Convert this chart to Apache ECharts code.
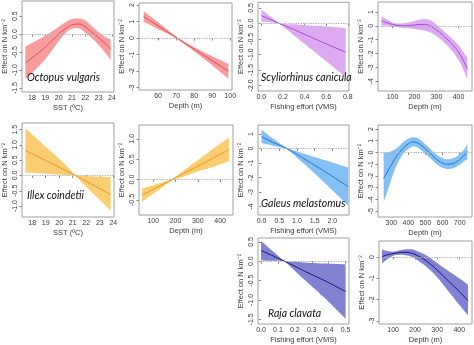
<!DOCTYPE html>
<html><head><meta charset="utf-8">
<script src="https://cdn.jsdelivr.net/npm/echarts@6/dist/echarts.min.js"></script>
<style>html,body{margin:0;padding:0;background:#fff}#c{width:474px;height:345px}</style>
</head><body><div id="c"></div><script>
// ---- Panel 1: Octopus vulgaris ~ SST
const octoSstX    = [17.5,18,18.5,19,19.5,20,20.5,21,21.5,22,22.5,23,23.5,23.9];
const octoSstMean = [-0.8,-0.66,-0.52,-0.36,-0.18,0.0,0.15,0.26,0.28,0.2,0.05,-0.1,-0.27,-0.42];
const octoSstHi   = [-0.35,-0.25,-0.15,-0.04,0.08,0.2,0.33,0.42,0.43,0.38,0.22,0.05,-0.08,-0.15];
const octoSstLo   = [-1.25,-1.08,-0.9,-0.7,-0.45,-0.2,0.02,0.15,0.16,0.04,-0.12,-0.3,-0.52,-0.73];
// ---- Panel 2: Octopus vulgaris ~ Depth
const octoDepX    = [52,60,66,71,80,90,99];
const octoDepMean = [1.3,0.74,0.32,-0.04,-0.67,-1.37,-2.0];
const octoDepHi   = [1.62,0.95,0.42,0.0,-0.55,-1.1,-1.55];
const octoDepLo   = [0.98,0.53,0.22,-0.08,-0.8,-1.64,-2.45];
// ---- Panel 3: Scyliorhinus canicula ~ Fishing effort
const scyFeX    = [0,0.1,0.17,0.3,0.45,0.6,0.78];
const scyFeMean = [0.25,0.1,-0.007,-0.2,-0.43,-0.66,-0.93];
const scyFeHi   = [0.45,0.18,0.0,-0.03,-0.07,-0.1,-0.15];
const scyFeLo   = [0.05,0.03,-0.02,-0.38,-0.8,-1.22,-1.72];
// ---- Panel 4: Scyliorhinus canicula ~ Depth
const scyDepX    = [50,75,100,125,150,175,200,225,250,275,300,325,350,375,400,420,440];
const scyDepMean = [0.35,0.22,0.1,0.03,0.0,0.02,0.06,0.1,0.1,-0.05,-0.3,-0.62,-1.0,-1.4,-1.9,-2.45,-3.1];
const scyDepHi   = [0.7,0.45,0.25,0.17,0.18,0.25,0.35,0.45,0.5,0.38,0.07,-0.28,-0.62,-0.98,-1.4,-1.85,-2.3];
const scyDepLo   = [0.0,0.0,-0.05,-0.1,-0.15,-0.18,-0.22,-0.28,-0.35,-0.5,-0.75,-1.05,-1.45,-1.9,-2.45,-3.1,-3.85];
// ---- Panel 5: Illex coindetii ~ SST
const illSstX    = [17.5,18.5,19.5,20.5,21.2,22,23,23.8];
const illSstMean = [0.82,0.6,0.38,0.16,0.0,-0.19,-0.43,-0.62];
const illSstHi   = [1.55,1.15,0.75,0.33,0.02,-0.02,-0.04,-0.05];
const illSstLo   = [0.1,0.07,0.04,0.01,-0.02,-0.38,-0.8,-1.15];
// ---- Panel 6: Illex coindetii ~ Depth
const illDepX    = [50,100,150,185,250,300,350,400,440];
const illDepMean = [-0.38,-0.24,-0.1,0.0,0.19,0.33,0.47,0.62,0.73];
const illDepHi   = [-0.22,-0.14,-0.05,0.02,0.28,0.48,0.68,0.88,1.02];
const illDepLo   = [-0.55,-0.35,-0.15,-0.02,0.1,0.2,0.28,0.37,0.45];
// ---- Panel 7: Galeus melastomus ~ Fishing effort
const galFeX    = [0,0.35,0.72,1.2,1.8,2.45];
const galFeMean = [0.82,0.4,0.0,-0.7,-1.6,-2.62];
const galFeHi   = [1.3,0.65,0.03,-0.35,-0.8,-1.3];
const galFeLo   = [0.38,0.18,-0.04,-1.05,-2.4,-3.92];
// ---- Panel 8: Galeus melastomus ~ Depth
const galDepX    = [255,275,300,325,350,375,400,425,450,475,500,525,550,575,600,625,650,675,700,725,745];
const galDepMean = [-2.2,-1.7,-1.05,-0.45,0.05,0.45,0.75,0.9,0.85,0.6,0.3,-0.05,-0.4,-0.7,-0.9,-1.0,-0.98,-0.85,-0.6,-0.25,0.1];
const galDepHi   = [0.0,0.0,0.1,0.3,0.6,0.95,1.2,1.3,1.25,1.0,0.7,0.35,0.0,-0.3,-0.5,-0.58,-0.55,-0.4,-0.15,0.25,0.7];
const galDepLo   = [-4.2,-3.4,-2.3,-1.3,-0.55,0.0,0.3,0.5,0.45,0.2,-0.1,-0.45,-0.8,-1.1,-1.3,-1.4,-1.38,-1.25,-1.05,-0.75,-0.55];
// ---- Panel 9: Raja clavata ~ Fishing effort
const rajFeX    = [0,0.07,0.14,0.25,0.38,0.5];
const rajFeMean = [0.28,0.14,0.0,-0.24,-0.51,-0.78];
const rajFeHi   = [0.52,0.26,0.01,-0.03,-0.06,-0.08];
const rajFeLo   = [0.02,0.01,-0.01,-0.45,-0.96,-1.48];
// ---- Panel 10: Raja clavata ~ Depth
const rajDepX    = [50,75,100,125,150,175,200,250,300,350,400,440];
const rajDepMean = [0.02,0.1,0.16,0.2,0.22,0.2,0.12,-0.18,-0.62,-1.12,-1.62,-2.05];
const rajDepHi   = [0.35,0.28,0.25,0.3,0.35,0.36,0.32,0.08,-0.28,-0.65,-1.0,-1.3];
const rajDepLo   = [-0.3,-0.1,0.06,0.1,0.09,0.04,-0.08,-0.45,-0.95,-1.6,-2.25,-2.75];

// ---- tick values
const sstTicks   = [18,19,20,21,22,23,24];
const dep1Ticks  = [60,70,80,90,100];
const fe08Ticks  = [0,0.2,0.4,0.6,0.8];
const dep4Ticks  = [100,200,300,400];
const fe25Ticks  = [0,0.5,1,1.5,2,2.5];
const dep7Ticks  = [300,400,500,600,700];
const fe05Ticks  = [0,0.1,0.2,0.3,0.4,0.5];
const y1Ticks  = [-1.5,-1,-0.5,0,0.5];
const y2Ticks  = [-3,-2,-1,0,1,2];
const y3Ticks  = [-2,-1.5,-1,-0.5,0,0.5];
const y4Ticks  = [-4,-3,-2,-1,0,1];
const y5Ticks  = [-1,-0.5,0,0.5,1,1.5];
const y6Ticks  = [-0.5,0,0.5,1];
const y7Ticks  = [-4,-3,-2,-1,0,1];
const y8Ticks  = [-5,-4,-3,-2,-1,0,1,2];
const y9Ticks  = [-1.5,-1,-0.5,0,0.5];
const y10Ticks = [-3,-2,-1,0];

const species = ['Octopus vulgaris','Scyliorhinus canicula','Illex coindetii','Galeus melastomus','Raja clavata'];
const xTitles = ['SST (ºC)','Depth (m)','Fishing effort (VMS)'];
const yTitle = 'Effect on N km\u207B\u00B2';

const C = {
  octo:{band:'#F89C9E', line:'#DC4A55'},
  scy:{band:'#DDAAF2', line:'#A24AD6'},
  ill:{band:'#FBCD73', line:'#E89A18'},
  gal:{band:'#84C0F3', line:'#2474CF'},
  raj:{band:'#8282D2', line:'#15157C'}
};

const P = [
 {x:octoSstX,m:octoSstMean,h:octoSstHi,l:octoSstLo,c:C.octo,box:[19,1,95,91],xr:[17.25,24.15],yr:[-1.61,0.92],xt:sstTicks,yt:y1Ticks,xd:0,yd:1,xn:xTitles[0],sm:0.4},
 {x:octoDepX,m:octoDepMean,h:octoDepHi,l:octoDepLo,c:C.octo,box:[139,3,93,87],xr:[49.4,101],yr:[-3.14,2.12],xt:dep1Ticks,yt:y2Ticks,xd:0,yd:0,xn:xTitles[1],sm:0.2},
 {x:scyFeX,m:scyFeMean,h:scyFeHi,l:scyFeLo,c:C.scy,box:[258,1,91,90],xr:[-0.031,0.811],yr:[-2.18,0.68],xt:fe08Ticks,yt:y3Ticks,xd:1,yd:1,xn:xTitles[2],sm:0.2},
 {x:scyDepX,m:scyDepMean,h:scyDepHi,l:scyDepLo,c:C.scy,box:[378,2,94,89],xr:[34,461],yr:[-4.7,1.72],xt:dep4Ticks,yt:y4Ticks,xd:0,yd:0,xn:xTitles[1],sm:0.4},
 {x:illSstX,m:illSstMean,h:illSstHi,l:illSstLo,c:C.ill,box:[19,123,95,94],xr:[17.25,24.05],yr:[-1.36,1.72],xt:sstTicks,yt:y5Ticks,xd:0,yd:1,xn:xTitles[0],sm:0.2},
 {x:illDepX,m:illDepMean,h:illDepHi,l:illDepLo,c:C.ill,box:[139,125,94,90],xr:[36,458],yr:[-0.87,1.34],xt:dep4Ticks,yt:y6Ticks,xd:0,yd:1,xn:xTitles[1],sm:0.2},
 {x:galFeX,m:galFeMean,h:galFeHi,l:galFeLo,c:C.gal,box:[258,125,91,90],xr:[-0.1,2.47],yr:[-4.57,1.62],xt:fe25Ticks,yt:y7Ticks,xd:1,yd:0,xn:xTitles[2],sm:0.2},
 {x:galDepX,m:galDepMean,h:galDepHi,l:galDepLo,c:C.gal,box:[378,125,94,92],xr:[222,772],yr:[-5.49,2.34],xt:dep7Ticks,yt:y8Ticks,xd:0,yd:0,xn:xTitles[1],sm:0.4},
 {x:rajFeX,m:rajFeMean,h:rajFeHi,l:rajFeLo,c:C.raj,box:[258,238,91,90],xr:[-0.018,0.52],yr:[-1.62,0.6],xt:fe05Ticks,yt:y9Ticks,xd:1,yd:1,xn:xTitles[2],sm:0.2},
 {x:rajDepX,m:rajDepMean,h:rajDepHi,l:rajDepLo,c:C.raj,box:[379,241,93,87],xr:[36,458],yr:[-3.15,0.75],xt:dep4Ticks,yt:y10Ticks,xd:0,yd:0,xn:xTitles[1],sm:0.4}
];

const labelPos = [[27,72],[261,72],[27,190],[261,198],[268,308]];

// smooth path through pixel points (render-time smoothing only)
function splinePath(pts, t, start){
  let d = start ? 'M' + pts[0][0] + ' ' + pts[0][1] : '';
  for (let i=0;i<pts.length-1;i++){
    const p0 = pts[Math.max(i-1,0)], p1 = pts[i], p2 = pts[i+1], p3 = pts[Math.min(i+2,pts.length-1)];
    const c1 = [p1[0]+(p2[0]-p0[0])*t, p1[1]+(p2[1]-p0[1])*t];
    const c2 = [p2[0]-(p3[0]-p1[0])*t, p2[1]-(p3[1]-p1[1])*t];
    d += ' C' + c1[0]+' '+c1[1]+' '+c2[0]+' '+c2[1]+' '+p2[0]+' '+p2[1];
  }
  return d;
}

const txt = '#3a3a3a', FF = 'Liberation Sans, Arial, sans-serif';
const grids=[], xAxes=[], yAxes=[], series=[];
P.forEach((p,i)=>{
  grids.push({left:p.box[0],top:p.box[1],width:p.box[2],height:p.box[3],show:true,borderColor:'#a0a0a0',borderWidth:1,backgroundColor:'transparent'});
  xAxes.push({gridIndex:i,type:'value',min:p.xr[0],max:p.xr[1],axisLine:{show:false},splitLine:{show:false},
    axisTick:{show:true,length:2.5,customValues:p.xt,lineStyle:{color:'#888'}},
    axisLabel:{customValues:p.xt,fontSize:7,color:txt,margin:3,fontFamily:FF,formatter:v=>v.toFixed(p.xd)},
    name:p.xn,nameLocation:'middle',nameGap:12,nameTextStyle:{fontSize:7.5,color:txt,fontFamily:FF}});
  yAxes.push({gridIndex:i,type:'value',min:p.yr[0],max:p.yr[1],axisLine:{show:false},splitLine:{show:false},
    axisTick:{show:true,length:2.5,customValues:p.yt,lineStyle:{color:'#888'}},
    axisLabel:{customValues:p.yt,fontSize:7,color:txt,margin:3,rotate:90,fontFamily:FF,formatter:v=>v.toFixed(p.yd)},
    name:yTitle,nameLocation:'middle',nameGap:13,nameRotate:90,nameTextStyle:{fontSize:7.5,color:txt,fontFamily:FF}});
  const tens = p.sm/2.4;
  series.push({type:'custom',xAxisIndex:i,yAxisIndex:i,silent:true,z:1,
    data:p.x.map((x,k)=>[x,p.l[k],p.h[k]]),encode:{x:0,y:[1,2]},
    renderItem:(params,api)=>{
      if (params.dataIndexInside !== 0) return null;
      const up = p.x.map((x,k)=>api.coord([x,p.h[k]]));
      const dn = p.x.map((x,k)=>api.coord([x,p.l[k]])).reverse();
      const d = splinePath(up,tens,true) + ' L' + dn[0][0] + ' ' + dn[0][1] + splinePath(dn,tens,false) + ' Z';
      return {type:'path',shape:{pathData:d},style:{fill:p.c.band}};
    }});
  series.push({type:'line',xAxisIndex:i,yAxisIndex:i,data:p.x.map((x,k)=>[x,p.m[k]]),symbol:'none',smooth:p.sm,lineStyle:{color:p.c.line,width:1},silent:true,z:3,
    markLine:{silent:true,symbol:'none',label:{show:false},lineStyle:{color:'#b8b8b8',type:[1.5,1],width:1},data:[{yAxis:0}],animation:false}});
});

const graphic = species.map((s,k)=>({type:'text',left:labelPos[k][0],top:labelPos[k][1],z:10,
  style:{text:s,font:'italic 10.5px Lato, "Open Sans", sans-serif',fill:'#111'}}));

const chart = echarts.init(document.getElementById('c'));
chart.setOption({animation:false,grid:grids,xAxis:xAxes,yAxis:yAxes,series:series,graphic:graphic});
</script></body></html>
